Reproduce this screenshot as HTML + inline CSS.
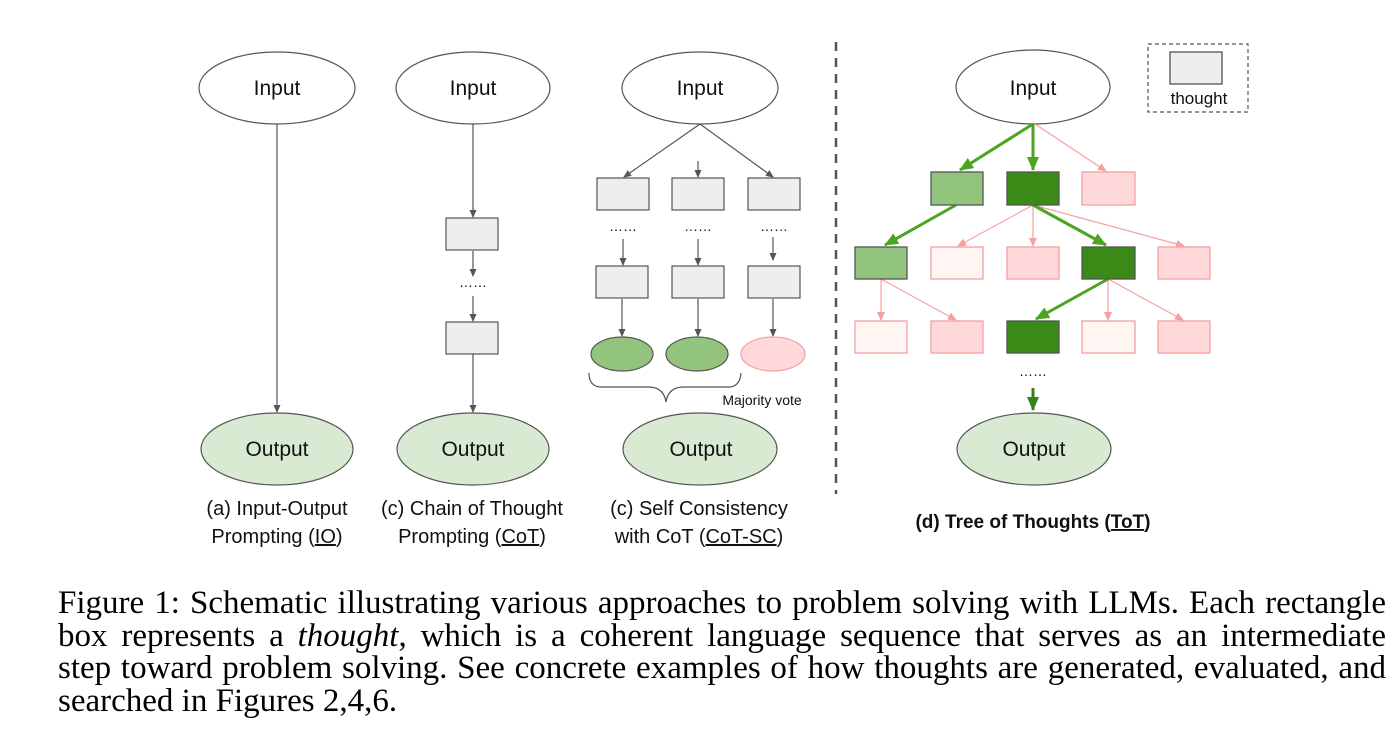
<!DOCTYPE html>
<html><head><meta charset="utf-8"><style>
body{margin:0;background:#fff;width:1400px;height:754px;overflow:hidden}
svg{position:absolute;left:0;top:0}
.cap{position:absolute;left:58px;top:587px;width:1328px;font-family:"Liberation Serif",serif;font-size:33px;line-height:32.7px;color:#000;white-space:nowrap}
.cap div.j{text-align:justify;text-align-last:justify}
</style></head><body>
<svg width="1400" height="580" viewBox="0 0 1400 580" font-family="Liberation Sans, sans-serif">
<defs>
<marker id="g" markerWidth="8" markerHeight="8" refX="7" refY="4" orient="auto" markerUnits="userSpaceOnUse"><path d="M0,0.5 L8,4 L0,7.5z" fill="#555"/></marker>
<marker id="gr" markerWidth="14" markerHeight="12" refX="13" refY="6" orient="auto" markerUnits="userSpaceOnUse"><path d="M0,0 L14,6 L0,12z" fill="#4ca423"/></marker>
<marker id="dg" markerWidth="14" markerHeight="12" refX="13" refY="6" orient="auto" markerUnits="userSpaceOnUse"><path d="M0,0 L14,6 L0,12z" fill="#38801a"/></marker>
<marker id="pk" markerWidth="9" markerHeight="8" refX="8" refY="4" orient="auto" markerUnits="userSpaceOnUse"><path d="M0,0 L9,4 L0,8z" fill="#f4a0a0"/></marker>
</defs>
<g stroke="#555" stroke-width="1.2" fill="none">
<ellipse cx="277" cy="88" rx="78" ry="36" fill="#fff"/>
<ellipse cx="473" cy="88" rx="77" ry="36" fill="#fff"/>
<ellipse cx="700" cy="88" rx="78" ry="36" fill="#fff"/>
<ellipse cx="1033" cy="87" rx="77" ry="37" fill="#fff"/>
<ellipse cx="277" cy="449" rx="76" ry="36" fill="#d9ead3"/>
<ellipse cx="473" cy="449" rx="76" ry="36" fill="#d9ead3"/>
<ellipse cx="700" cy="449" rx="77" ry="36" fill="#d9ead3"/>
<ellipse cx="1034" cy="449" rx="77" ry="36" fill="#d9ead3"/>
<line x1="277" y1="124" x2="277" y2="412" marker-end="url(#g)"/>
<line x1="473" y1="124" x2="473" y2="217" marker-end="url(#g)"/>
<line x1="473" y1="251" x2="473" y2="276" marker-end="url(#g)"/>
<line x1="473" y1="296" x2="473" y2="321" marker-end="url(#g)"/>
<line x1="473" y1="354" x2="473" y2="412" marker-end="url(#g)"/>
<rect x="446" y="218" width="52" height="32" fill="#eee"/>
<rect x="446" y="322" width="52" height="32" fill="#eee"/>
<line x1="700" y1="124" x2="624" y2="177" marker-end="url(#g)"/>
<line x1="698" y1="161" x2="698" y2="177" marker-end="url(#g)"/>
<line x1="700" y1="124" x2="773" y2="177" marker-end="url(#g)"/>
<rect x="597" y="178" width="52" height="32" fill="#eee"/>
<rect x="672" y="178" width="52" height="32" fill="#eee"/>
<rect x="748" y="178" width="52" height="32" fill="#eee"/>
<line x1="623" y1="239" x2="623" y2="265" marker-end="url(#g)"/>
<line x1="698" y1="239" x2="698" y2="265" marker-end="url(#g)"/>
<line x1="773" y1="237" x2="773" y2="260" marker-end="url(#g)"/>
<rect x="596" y="266" width="52" height="32" fill="#eee"/>
<rect x="672" y="266" width="52" height="32" fill="#eee"/>
<rect x="748" y="266" width="52" height="32" fill="#eee"/>
<line x1="622" y1="299" x2="622" y2="336" marker-end="url(#g)"/>
<line x1="698" y1="299" x2="698" y2="336" marker-end="url(#g)"/>
<line x1="773" y1="299" x2="773" y2="336" marker-end="url(#g)"/>
<ellipse cx="622" cy="354" rx="31" ry="17" fill="#93c47d"/>
<ellipse cx="697" cy="354" rx="31" ry="17" fill="#93c47d"/>
<ellipse cx="773" cy="354" rx="32" ry="17" fill="#ffd9d9" stroke="#f4a0a0"/>
<path d="M589,373 Q589,386 600,387 L650,387 Q664,388 666,402 Q668,388 682,387 L730,387 Q740,386 741,373"/>
</g>
<g font-size="21" fill="#111" text-anchor="middle">
<text x="277" y="95">Input</text><text x="473" y="95">Input</text><text x="700" y="95">Input</text><text x="1033" y="95">Input</text>
<text x="277" y="456">Output</text><text x="473" y="456">Output</text><text x="701" y="456">Output</text><text x="1034" y="456">Output</text>
<text x="473" y="287" font-size="14">……</text>
<text x="623" y="231" font-size="14">……</text><text x="698" y="231" font-size="14">……</text><text x="774" y="231" font-size="14">……</text>
<text x="1033" y="376" font-size="14">……</text>
<text x="762" y="405" font-size="14">Majority vote</text>
<g font-size="20">
<text x="277" y="515">(a) Input-Output</text>
<text x="277" y="543">Prompting (<tspan text-decoration="underline">IO</tspan>)</text>
<text x="472" y="515">(c) Chain of Thought</text>
<text x="472" y="543">Prompting (<tspan text-decoration="underline">CoT</tspan>)</text>
<text x="699" y="515">(c) Self Consistency</text>
<text x="699" y="543">with CoT (<tspan text-decoration="underline">CoT-SC</tspan>)</text>
</g>
<text x="1033" y="528" font-weight="bold" font-size="19">(d) Tree of Thoughts (<tspan text-decoration="underline">ToT</tspan>)</text>
<text x="1199" y="104" font-size="17">thought</text>
</g>
<line x1="836" y1="42" x2="836" y2="494" stroke="#555" stroke-width="2.5" stroke-dasharray="9,7"/>
<rect x="1148" y="44" width="100" height="68" fill="none" stroke="#555" stroke-width="1.2" stroke-dasharray="4,3"/>
<rect x="1170" y="52" width="52" height="32" fill="#eee" stroke="#555" stroke-width="1.3"/>
<g stroke="#f4a0a0" stroke-width="1.2" fill="none">
<line x1="1035" y1="124" x2="1106" y2="171" marker-end="url(#pk)"/>
<line x1="1033" y1="205" x2="958" y2="246" marker-end="url(#pk)"/>
<line x1="1033" y1="205" x2="1033" y2="246" marker-end="url(#pk)"/>
<line x1="1033" y1="205" x2="1184" y2="246" marker-end="url(#pk)"/>
<line x1="881" y1="279" x2="881" y2="320" marker-end="url(#pk)"/>
<line x1="881" y1="279" x2="956" y2="320" marker-end="url(#pk)"/>
<line x1="1108" y1="279" x2="1108" y2="320" marker-end="url(#pk)"/>
<line x1="1108" y1="279" x2="1183" y2="320" marker-end="url(#pk)"/>
</g>
<g stroke="#4ca423" stroke-width="3" fill="none">
<line x1="1033" y1="124" x2="960" y2="170" marker-end="url(#gr)"/>
<line x1="1033" y1="124" x2="1033" y2="170" marker-end="url(#gr)"/>
<line x1="956" y1="205" x2="885" y2="245" marker-end="url(#gr)"/>
<line x1="1033" y1="205" x2="1106" y2="245" marker-end="url(#gr)"/>
<line x1="1108" y1="279" x2="1036" y2="319" marker-end="url(#gr)"/>
<line x1="1033" y1="388" x2="1033" y2="410" stroke="#38801a" marker-end="url(#dg)"/>
</g>
<g stroke-width="1.3">
<rect x="931" y="172" width="52" height="33" fill="#93c47d" stroke="#555"/>
<rect x="1007" y="172" width="52" height="33" fill="#3b8a17" stroke="#555"/>
<rect x="1082" y="172" width="53" height="33" fill="#ffd9d9" stroke="#f4a0a0"/>
<rect x="855" y="247" width="52" height="32" fill="#93c47d" stroke="#555"/>
<rect x="931" y="247" width="52" height="32" fill="#fff5f3" stroke="#f4a0a0"/>
<rect x="1007" y="247" width="52" height="32" fill="#ffd9d9" stroke="#f4a0a0"/>
<rect x="1082" y="247" width="53" height="32" fill="#3b8a17" stroke="#555"/>
<rect x="1158" y="247" width="52" height="32" fill="#ffd9d9" stroke="#f4a0a0"/>
<rect x="855" y="321" width="52" height="32" fill="#fff5f3" stroke="#f4a0a0"/>
<rect x="931" y="321" width="52" height="32" fill="#ffd9d9" stroke="#f4a0a0"/>
<rect x="1007" y="321" width="52" height="32" fill="#3b8a17" stroke="#555"/>
<rect x="1082" y="321" width="53" height="32" fill="#fff5f3" stroke="#f4a0a0"/>
<rect x="1158" y="321" width="52" height="32" fill="#ffd9d9" stroke="#f4a0a0"/>
</g>
</svg>
<div class="cap">
<div class="j">Figure 1: Schematic illustrating various approaches to problem solving with LLMs. Each rectangle</div>
<div class="j">box represents a <i>thought</i>, which is a coherent language sequence that serves as an intermediate</div>
<div class="j">step toward problem solving. See concrete examples of how thoughts are generated, evaluated, and</div>
<div>searched in Figures 2,4,6.</div>
</div>
</body></html>
